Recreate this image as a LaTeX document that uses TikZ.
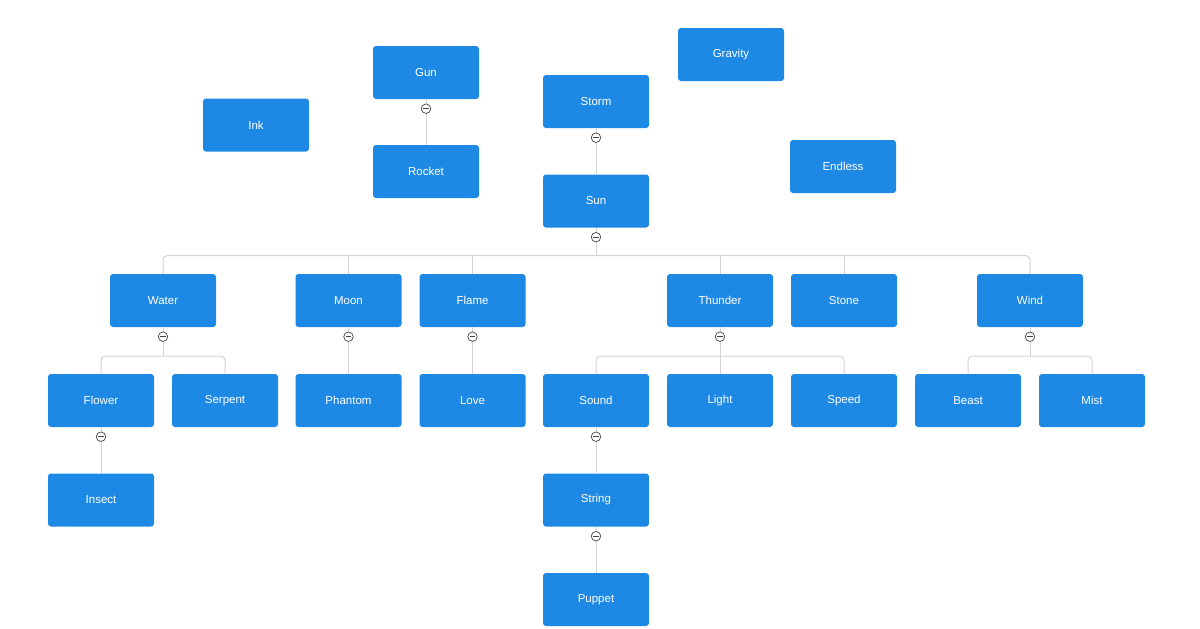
\documentclass[tikz,border=0pt]{standalone}
\usepackage{fontspec}
\setmainfont{Liberation Sans}
\usetikzlibrary{calc}
\definecolor{boxblue}{HTML}{1E88E5}
\definecolor{connc}{HTML}{D3D3D3}
\definecolor{iconc}{HTML}{444444}
\tikzset{
  box/.style={rectangle, rounded corners=3pt, fill=boxblue, draw=none,
    minimum width=106pt, minimum height=53pt, inner sep=0pt,
    text=white, font=\fontsize{11.5}{13}\selectfont},
  conn/.style={draw=connc, line width=1pt, rounded corners=4pt},
  icon/.style={circle, draw=iconc, fill=white, line width=0.7pt, minimum size=9.5pt, inner sep=0pt,
    path picture={\draw[iconc, line width=0.9pt] ([xshift=-2.6pt]path picture bounding box.center) -- ([xshift=2.6pt]path picture bounding box.center);}}
}
\begin{document}
\begin{tikzpicture}[x=1pt,y=-1pt]
\useasboundingbox (0,0) rectangle (1200,629);
\fill[white] (0,0) rectangle (1200,629);
% nodes
\foreach \n/\t/\x/\y in {
  gun/Gun/426/72.5, rocket/Rocket/426/171.5, ink/Ink/256/125,
  storm/Storm/596/101.5, sun/Sun/596/201, gravity/Gravity/731/54.5, endless/Endless/843/166.5,
  water/Water/163/300.5, moon/Moon/348.5/300.5, flame/Flame/472.5/300.5,
  thunder/Thunder/720/300.5, stone/Stone/844/300.5, wind/Wind/1030/300.5,
  flower/Flower/101/400.5, serpent/Serpent/225/400.5, phantom/Phantom/348.5/400.5,
  love/Love/472.5/400.5, sound/Sound/596/400.5, light/Light/720/400.5,
  speed/Speed/844/400.5, beast/Beast/968/400.5, mist/Mist/1092/400.5,
  insect/Insect/101/500, string/String/596/500, puppet/Puppet/596/599.5}
  {\node[box] (\n) at (\x,\y) {\t};}
% connectors
\draw[conn] (gun.south) -- (rocket.north);
\draw[conn] (storm.south) -- (sun.north);
% Sun's children
\coordinate (sunbus) at ($(sun.south)+(0,28)$);
\draw[conn] (sun.south) -- (sunbus);
\draw[conn] (water.north) |- (sunbus) -| (wind.north);
\foreach \c in {moon,flame,thunder,stone}
  \draw[conn] (\c.north) -- (\c.north |- sunbus);
% Water's children
\coordinate (waterbus) at ($(water.south)+(0,29)$);
\draw[conn] (water.south) -- (waterbus);
\draw[conn] (flower.north) |- (waterbus) -| (serpent.north);
\draw[conn] (moon.south) -- (phantom.north);
\draw[conn] (flame.south) -- (love.north);
% Thunder's children
\coordinate (thunderbus) at ($(thunder.south)+(0,29)$);
\draw[conn] (thunder.south) -- (light.north);
\draw[conn] (sound.north) |- (thunderbus) -| (speed.north);
% Wind's children
\coordinate (windbus) at ($(wind.south)+(0,29)$);
\draw[conn] (wind.south) -- (windbus);
\draw[conn] (beast.north) |- (windbus) -| (mist.north);
\draw[conn] (flower.south) -- (insect.north);
\draw[conn] (sound.south) -- (string.north);
\draw[conn] (string.south) -- (puppet.north);
% icons
\foreach \p in {gun,storm,sun,water,moon,flame,thunder,wind,flower,sound,string}
  \node[icon] (\p I) at ($(\p.south)+(0,9.5)$) {};
\end{tikzpicture}
\end{document}
